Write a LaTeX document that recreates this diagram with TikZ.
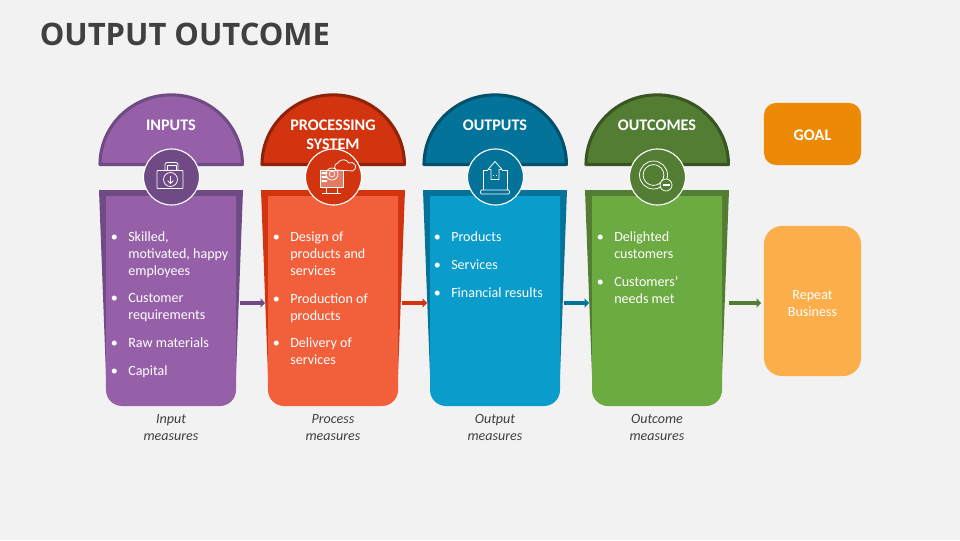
\documentclass[tikz,border=0pt]{standalone}
\usepackage{fontspec}
\setmainfont{Carlito}
\newfontfamily\titlefont{Open Sans}
\usetikzlibrary{arrows.meta,shadows}
\definecolor{bgpage}{HTML}{F2F2F2}
\definecolor{purplefill}{HTML}{9560A8}
\definecolor{purpledark}{HTML}{704A85}
\definecolor{redfill}{HTML}{F2603B}
\definecolor{reddome}{HTML}{D2340F}
\definecolor{reddark}{HTML}{8F230A}
\definecolor{bluefill}{HTML}{0A9CCB}
\definecolor{bluedome}{HTML}{04739A}
\definecolor{bluedark}{HTML}{03506B}
\definecolor{greenfill}{HTML}{6CAA42}
\definecolor{greendome}{HTML}{537D32}
\definecolor{greendark}{HTML}{385522}
\definecolor{goalfill}{HTML}{EC8905}
\definecolor{repeatfill}{HTML}{FBAE4A}
\newcommand{\itemdot}{\leavevmode\llap{•\hspace{7.4pt}}}
\tikzset{
	dome/.style={line width=2.2pt, line join=round},
	badge/.style={circle, draw=white, line width=0.8pt, minimum size=1.4cm, inner sep=0pt, drop shadow={opacity=0.25, shadow xshift=0pt, shadow yshift=-0.4pt}},
	icon/.style={draw=white, line width=0.55pt},
	headtext/.style={text=white, align=center, font=\fontsize{11.5}{13.6}\selectfont\bfseries},
	itemtext/.style={text=white, anchor=north west, align=left, inner sep=0pt, font=\fontsize{10}{12.1}\selectfont},
	measuretext/.style={text=black!75, anchor=north, align=center, inner sep=0pt, font=\fontsize{10}{12.1}\selectfont\itshape},
	sidebox/.style={minimum width=2.425cm, text=white, align=center, inner sep=0pt},
	flow/.style={line width=2.8pt, -{Triangle[length=3.2pt, width=6.6pt]}}
}
\begin{document}
\begin{tikzpicture}[x=0.025cm, y=-0.025cm]
	\fill[bgpage] (0,0) rectangle (960,540);
	\node[anchor=west, inner sep=0pt, text=black!75, font=\titlefont\fontsize{22}{26}\selectfont\bfseries] (title) at (39.5,34) {OUTPUT OUTCOME};

	% inputs
	\draw[dome, fill=purplefill, draw=purpledark] (100,164.5) arc[start angle=180, end angle=0, x radius=1.78cm, y radius=1.74cm] -- cycle;
	\fill[purpledark] (99,190) -- (243,190) -- (236,375) -- (106,375) -- cycle;
	\fill[purplefill] (106,196) -- (236,196) -- (236,390) arc[start angle=0, end angle=-90, radius=0.4cm] -- (122,406) arc[start angle=-90, end angle=-180, radius=0.4cm] -- cycle;
	\node[headtext] (headA) at (171,125) {INPUTS};
	\node[badge, fill=purpledark] (badgeA) at (171.5,177) {};
	\draw[icon, rounded corners=0.5pt] (157,170.5) rectangle (183,188.5);
	\draw[icon, rounded corners=1.5pt] (165,170.5) -- (165,162.5) -- (178,162.5) -- (178,170.5);
	\draw[icon] (167,170.5) -- (167,165.5) -- (176,165.5) -- (176,170.5);
	\draw[icon] (170.5,179.5) circle [radius=0.175cm];
	\draw[icon, -{Straight Barb[length=2pt, width=4pt]}] (170.5,175.5) -- (170.5,184);
	\node[itemtext] (itemA1) at (128,231) {\itemdot Skilled,\\motivated, happy\\employees};
	\node[itemtext] (itemA2) at (128,293) {\itemdot Customer\\requirements};
	\node[itemtext] (itemA3) at (128,337) {\itemdot Raw materials};
	\node[itemtext] (itemA4) at (128,365) {\itemdot Capital};
	\node[measuretext] (measureA) at (171,414.5) {Input\\measures};

	% processing system
	\draw[dome, fill=reddome, draw=reddark] (262,164.5) arc[start angle=180, end angle=0, x radius=1.78cm, y radius=1.74cm] -- cycle;
	\fill[reddome] (261,190) -- (405,190) -- (398,375) -- (268,375) -- cycle;
	\fill[redfill] (268,196) -- (398,196) -- (398,390) arc[start angle=0, end angle=-90, radius=0.4cm] -- (284,406) arc[start angle=-90, end angle=-180, radius=0.4cm] -- cycle;
	\node[headtext] (headB) at (333,135) {PROCESSING\\SYSTEM};
	\node[badge, fill=reddome] (badgeB) at (333.5,177) {};
	\draw[icon, fill=white!35!reddome] (320,170) rectangle (343,187);
	\draw[icon] (326,187) -- (326,192.5) (337,187) -- (337,192.5) (322,193) -- (341,193);
	\fill[white] (321.5,172) rectangle (327,174) (321.5,176) rectangle (327,178) (321.5,180) rectangle (327,182);
	\draw[icon] (332,174) circle [radius=0.15cm];
	\draw[icon] (332,174) circle [radius=0.07cm];
	\draw[icon, fill=reddome] (336,170) arc[start angle=230, end angle=100, radius=0.1cm] arc[start angle=150, end angle=30, radius=0.16cm] arc[start angle=120, end angle=-70, radius=0.11cm] -- cycle;
	\node[itemtext] (itemB1) at (290,231.7) {\itemdot Design of\\products and\\services};
	\node[itemtext] (itemB2) at (290,293) {\itemdot Production of\\products};
	\node[itemtext] (itemB3) at (290,337) {\itemdot Delivery of\\services};
	\node[measuretext] (measureB) at (333,414.5) {Process\\measures};

	% outputs
	\draw[dome, fill=bluedome, draw=bluedark] (424,164.5) arc[start angle=180, end angle=0, x radius=1.78cm, y radius=1.74cm] -- cycle;
	\fill[bluedome] (423,190) -- (567,190) -- (560,375) -- (430,375) -- cycle;
	\fill[bluefill] (430,196) -- (560,196) -- (560,390) arc[start angle=0, end angle=-90, radius=0.4cm] -- (446,406) arc[start angle=-90, end angle=-180, radius=0.4cm] -- cycle;
	\node[headtext] (headC) at (495,125) {OUTPUTS};
	\node[badge, fill=bluedome] (badgeC) at (495.5,177) {};
	\draw[icon] (488,170.5) -- (483,170.5) -- (483,190) (502,170.5) -- (507,170.5) -- (507,190);
	\draw[icon, rounded corners=0.8pt] (480.5,190) rectangle (509.5,194);
	\draw[icon, line join=round] (491,179.5) -- (491,169.5) -- (488,169.5) -- (495,161.5) -- (502,169.5) -- (499,169.5) -- (499,179.5) -- cycle;
	\draw[icon, line width=0.4pt, dotted] (492.5,175) -- (497.5,175);
	\node[itemtext] (itemC1) at (451,231) {\itemdot Products};
	\node[itemtext] (itemC2) at (451,260) {\itemdot Services};
	\node[itemtext] (itemC3) at (451,287) {\itemdot Financial results};
	\node[measuretext] (measureC) at (495,414.5) {Output\\measures};

	% outcomes
	\draw[dome, fill=greendome, draw=greendark] (586,164.5) arc[start angle=180, end angle=0, x radius=1.78cm, y radius=1.74cm] -- cycle;
	\fill[greendome] (585,190) -- (729,190) -- (722,375) -- (592,375) -- cycle;
	\fill[greenfill] (592,196) -- (722,196) -- (722,390) arc[start angle=0, end angle=-90, radius=0.4cm] -- (608,406) arc[start angle=-90, end angle=-180, radius=0.4cm] -- cycle;
	\node[headtext] (headD) at (657,125) {OUTCOMES};
	\node[badge, fill=greendome] (badgeD) at (657.5,177) {};
	\draw[icon] (653.5,175) circle [radius=0.35cm];
	\draw[icon] (653.5,175) circle [radius=0.26cm];
	\draw[icon, fill=greendome] (666,185) circle [radius=0.15cm];
	\draw[icon, line width=0.8pt] (662.5,185) -- (669.5,185);
	\node[itemtext] (itemD1) at (614,231) {\itemdot Delighted\\customers};
	\node[itemtext] (itemD2) at (614,276) {\itemdot Customers'\\needs met};
	\node[measuretext] (measureD) at (657,414.5) {Outcome\\measures};

	% right side
	\node[sidebox, fill=goalfill, rounded corners=0.3cm, minimum height=1.55cm, font=\fontsize{11.5}{13.6}\selectfont\bfseries] (goal) at (812.5,134) {\rule{0pt}{9.2pt}GOAL};
	\node[sidebox, fill=repeatfill, rounded corners=0.45cm, minimum height=3.75cm, font=\fontsize{10}{12.1}\selectfont] (repeatbox) at (812.5,301) {\rule{0pt}{9.5pt}Repeat\\Business};

	\coordinate (flowA) at (240,303);
	\coordinate (flowB) at (402,303);
	\coordinate (flowC) at (564,303);
	\coordinate (flowD) at (729,303);
	\coordinate (bodyB) at (265,303);
	\coordinate (bodyC) at (427,303);
	\coordinate (bodyD) at (589,303);
	\coordinate (boxE) at (761,303);
	\draw[flow, purpledark] (flowA) -- (bodyB);
	\draw[flow, reddome] (flowB) -- (bodyC);
	\draw[flow, bluedome] (flowC) -- (bodyD);
	\draw[flow, greendome] (flowD) -- (boxE);
\end{tikzpicture}
\end{document}
